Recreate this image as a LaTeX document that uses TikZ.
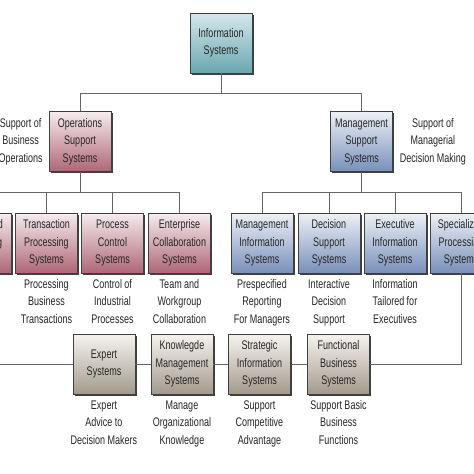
\documentclass[tikz,border=0pt]{standalone}
\usepackage{fontspec}
\setmainfont{Liberation Sans}[FakeStretch=0.72]
\usetikzlibrary{positioning, shadows}
\definecolor{tealtop}{HTML}{D4E8EC}
\definecolor{tealbot}{HTML}{6AA6B0}
\definecolor{rosetop}{HTML}{F6ECEE}
\definecolor{rosebot}{HTML}{AE6676}
\definecolor{bluetop}{HTML}{EEF1F7}
\definecolor{bluebot}{HTML}{7890BA}
\definecolor{taupetop}{HTML}{F6F3EF}
\definecolor{taupebot}{HTML}{A39A8D}
\definecolor{inkgray}{HTML}{262626}
\newcommand{\boxfont}{\fontsize{12.5}{17.5}\selectfont}
\tikzset{
  sysbox/.style={draw=black!75, thin, minimum width=62pt, minimum height=60pt,
    align=center, inner sep=1pt, text=inkgray, font=\boxfont,
    general shadow={fill=black!75, shadow xshift=1.6pt, shadow yshift=-1.6pt}},
  infobox/.style={sysbox, top color=tealtop, bottom color=tealbot},
  opsbox/.style={sysbox, top color=rosetop, bottom color=rosebot},
  mgtbox/.style={sysbox, top color=bluetop, bottom color=bluebot},
  otherbox/.style={sysbox, top color=taupetop, bottom color=taupebot},
  desc/.style={align=center, inner sep=1pt, text=inkgray, font=\boxfont},
  link/.style={draw=black!60, line width=0.8pt}
}

\begin{document}
\begin{tikzpicture}[x=1pt, y=-1pt]
    \useasboundingbox (0,0) rectangle (474,474);
    \fill[white] (0,0) rectangle (474,474);
    \clip (0,0) rectangle (474,474);
    % top and first level
    \node[infobox] (is) at (221,43) {Information\\Systems};
    \node[opsbox] (ops) at (80,141.5) {Operations\\Support\\Systems};
    \node[mgtbox] (mss) at (361.5,141.5) {Management\\Support\\Systems};
    \node[desc, left=5pt of ops] (opsdesc) {Support of\\Business\\Operations};
    \node[desc, right=6pt of mss] (mssdesc) {Support of\\Managerial\\Decision Making};
    % second level
    \node[opsbox] (splft) at (-20,243) {Specialized\\Processing\\Systems};
    \node[opsbox] (tps) at (46.5,243) {Transaction\\Processing\\Systems};
    \node[opsbox] (pcs) at (112.5,243) {Process\\Control\\Systems};
    \node[opsbox] (ecs) at (179.5,243) {Enterprise\\Collaboration\\Systems};
    \node[mgtbox] (mis) at (262,243) {Management\\Information\\Systems};
    \node[mgtbox] (dss) at (329,243) {Decision\\Support\\Systems};
    \node[mgtbox] (eis) at (395,243) {Executive\\Information\\Systems};
    \node[mgtbox] (sprgt) at (461,243) {Specialized\\Processing\\Systems};
    \node[desc, below=5pt of tps] (tpsdesc) {Processing\\Business\\Transactions};
    \node[desc, below=5pt of pcs] (pcsdesc) {Control of\\Industrial\\Processes};
    \node[desc, below=5pt of ecs] (ecsdesc) {Team and\\Workgroup\\Collaboration};
    \node[desc, below=5pt of mis] (misdesc) {Prespecified\\Reporting\\For Managers};
    \node[desc, below=5pt of dss] (dssdesc) {Interactive\\Decision\\Support};
    \node[desc, below=5pt of eis] (eisdesc) {Information\\Tailored for\\Executives};
    % bottom row
    \node[otherbox] (es) at (104,364) {Expert\\Systems};
    \node[otherbox] (kms) at (182,364) {Knowlegde\\Management\\Systems};
    \node[otherbox] (sis) at (259.5,364) {Strategic\\Information\\Systems};
    \node[otherbox] (fbs) at (338.5,364) {Functional\\Business\\Systems};
    \node[desc, below=5pt of es] (esdesc) {Expert\\Advice to\\Decision Makers};
    \node[desc, below=5pt of kms] (kmsdesc) {Manage\\Organizational\\Knowledge};
    \node[desc, below=5pt of sis] (sisdesc) {Support\\Competitive\\Advantage};
    \node[desc, below=5pt of fbs] (fbsdesc) {Support Basic\\Business\\Functions};
    \coordinate (leftend) at (-40,364);
    % connectors
    \draw[link] (is.south) -- ++(0,20) -| (ops.north);
    \draw[link] (is.south) -- ++(0,20) -| (mss.north);
    \foreach \n in {splft,tps,pcs,ecs}
        \draw[link] (ops.south) -- ++(0,21) -| (\n.north);
    \foreach \n in {mis,dss,eis,sprgt}
        \draw[link] (mss.south) -- ++(0,21) -| (\n.north);
    \draw[link] (sprgt.south) |- (fbs.east);
    \draw[link] (fbs.west) -- (sis.east);
    \draw[link] (sis.west) -- (kms.east);
    \draw[link] (kms.west) -- (es.east);
    \draw[link] (es.west) -- (leftend);
\end{tikzpicture}
\end{document}
